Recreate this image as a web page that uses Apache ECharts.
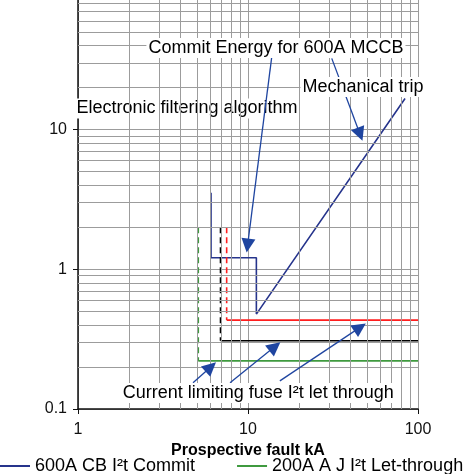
<!DOCTYPE html>
<html>
<head>
<meta charset="utf-8">
<script src="https://cdn.jsdelivr.net/npm/echarts@6.0.0/dist/echarts.min.js"></script>
<style>
  html, body { margin: 0; padding: 0; background: #fff; }
  #chart { width: 474px; height: 474px; }
</style>
</head>
<body>
<div id="chart"></div>
<script>
// 600A CB commit curve (kA, I²t)
const cbName = '600A CB I²t Commit';
const cbX = [6.06, 6.06, 11.2, 11.2, 83.9];
const cbY = [3.54, 1.21, 1.21, 0.478, 16.7];

// fuse let-through: dashed vertical at fuseX from fuseTop down to fuseLevel, then flat to the end
const fuseNames = ['200A A J I²t Let-through', '300A A J I²t Let-through', '400A A J I²t Let-through'];
const fuseX = [5.10, 6.91, 7.49];
const fuseTop = [2.0, 2.0, 2.0];
const fuseLevel = [0.221, 0.308, 0.433];
const fuseEnd = 100;

// minor grid lines of the log-log paper
const minorX = [2, 3, 4, 5, 6, 7, 8, 9, 20, 30, 40, 50, 60, 70, 80, 90];
const minorY = [0.2, 0.3, 0.4, 0.5, 0.6, 0.7, 0.8, 0.9, 2, 3, 4, 5, 6, 7, 8, 9, 20, 30, 40, 50, 60, 70, 80, 90];

// annotations (data coordinates)
const noteText = ['Commit Energy for 600A MCCB', 'Mechanical trip', 'Current limiting fuse I²t let through'];
const noteX = [14.6, 47.5, 11.5];
const noteY = [38.4, 20.2, 0.130];
const noteBelowText = ['Electronic filtering algorithm'];
const noteBelowX = [4.38];
const noteBelowY = [14.2];

const arrowFrom = [[13.8, 33.3], [31.1, 32.4], [4.75, 0.154], [7.84, 0.154], [15.4, 0.159]];
const arrowTo = [[9.94, 1.48], [45.6, 9.27], [6.04, 0.200], [14.4, 0.280], [45.6, 0.384]];

const fuseColors = ['#3f9a3f', '#000000', '#ff1e1e'];
const navy = '#26348c';
const arrowColor = '#1f45a0';
const gridColor = '#9c9c9c';
const font = 'Liberation Sans, Arial, sans-serif';

const chart = echarts.init(document.getElementById('chart'));

const series = [];

series.push({
  name: 'grid',
  type: 'line',
  data: [],
  z: 1,
  silent: true,
  markLine: {
    silent: true,
    symbol: 'none',
    label: { show: false },
    lineStyle: { type: 'solid', color: gridColor, width: 1 },
    emphasis: { disabled: true },
    data: minorX.map(v => ({ xAxis: v })).concat(minorY.map(v => ({ yAxis: v })))
  }
});

series.push({
  name: cbName,
  type: 'line',
  data: cbX.map((x, i) => [x, cbY[i]]),
  showSymbol: false,
  symbol: 'none',
  z: 3,
  lineStyle: { color: navy, width: 1.6 },
  itemStyle: { color: navy }
});

fuseNames.forEach((name, i) => {
  series.push({
    name: name,
    type: 'line',
    data: [[fuseX[i], fuseLevel[i]], [fuseEnd, fuseLevel[i]]],
    symbol: 'none',
    z: 3,
    lineStyle: { color: fuseColors[i], width: 1.6 },
    itemStyle: { color: fuseColors[i] }
  });
  series.push({
    name: name,
    type: 'line',
    data: [[fuseX[i], fuseTop[i]], [fuseX[i], fuseLevel[i]]],
    symbol: 'none',
    z: 3,
    lineStyle: { color: fuseColors[i], width: i === 1 ? 2 : 1.6, type: [6, 4] },
    itemStyle: { color: fuseColors[i] }
  });
});

const noteLabel = {
  show: true,
  position: 'inside',
  formatter: p => p.data[2],
  color: '#000',
  textBorderWidth: 0,
  fontFamily: font,
  fontSize: 18,
  backgroundColor: '#fff',
  padding: [1, 2]
};

series.push({
  name: 'notesBelow',
  type: 'scatter',
  symbolSize: 0,
  z: 4,
  silent: true,
  itemStyle: { opacity: 1 },
  data: noteBelowText.map((t, i) => [noteBelowX[i], noteBelowY[i], t]),
  label: noteLabel
});

series.push({
  name: 'arrows',
  type: 'lines',
  coordinateSystem: 'cartesian2d',
  z: 5,
  silent: true,
  symbol: ['none', 'triangle'],
  symbolSize: 14,
  lineStyle: { color: arrowColor, width: 1.3, opacity: 1 },
  data: arrowFrom.map((f, i) => ({ coords: [f, arrowTo[i]] }))
});

series.push({
  name: 'notes',
  type: 'scatter',
  symbolSize: 0,
  z: 6,
  silent: true,
  itemStyle: { opacity: 1 },
  data: noteText.map((t, i) => [noteX[i], noteY[i], t]),
  label: noteLabel
});

chart.setOption({
  animation: false,
  backgroundColor: '#fff',
  grid: { left: 78, right: 56, top: -10, bottom: 65, outerBoundsMode: 'none', containLabel: false },
  legend: {
    data: [cbName, fuseNames[0]],
    left: 0,
    top: 457,
    padding: 0,
    icon: 'rect',
    itemWidth: 30,
    itemHeight: 2,
    itemGap: 42,
    textStyle: { fontFamily: font, fontSize: 18, color: '#000' }
  },
  xAxis: {
    type: 'log',
    logBase: 10,
    min: 1,
    max: 100,
    name: 'Prospective fault kA',
    nameLocation: 'middle',
    nameGap: 31,
    nameTextStyle: { fontFamily: font, fontSize: 16, fontWeight: 'bold', color: '#000' },
    axisLine: { lineStyle: { color: '#111', width: 1.5 } },
    axisTick: { show: true, length: 5, lineStyle: { color: '#111' } },
    axisLabel: { fontFamily: font, fontSize: 16, color: '#111', margin: 13 },
    splitLine: { show: true, lineStyle: { color: gridColor, width: 1 } }
  },
  yAxis: {
    type: 'log',
    logBase: 10,
    min: 0.1,
    max: 100,
    axisLine: { show: true, lineStyle: { color: '#111', width: 1.5 } },
    axisTick: { show: true, length: 5, lineStyle: { color: '#111' } },
    axisLabel: { fontFamily: font, fontSize: 16, color: '#111', margin: 11 },
    splitLine: { show: true, lineStyle: { color: gridColor, width: 1 } }
  },
  series: series
});
</script>
</body>
</html>
